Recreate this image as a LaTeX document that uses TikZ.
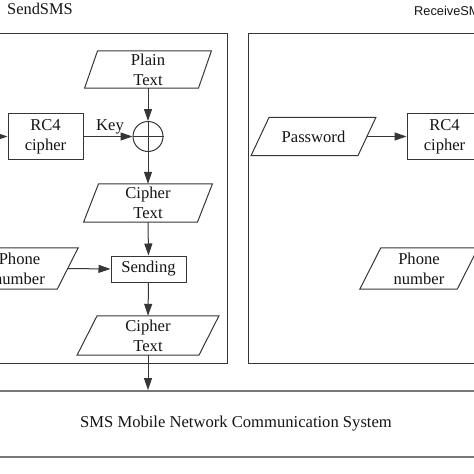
\documentclass[tikz,border=0pt]{standalone}
\usepackage{fontspec}
\setmainfont{Liberation Serif}
\newfontfamily\sansf{Liberation Sans}
\usetikzlibrary{arrows.meta}
\definecolor{lc}{HTML}{363636}
\definecolor{bandc}{HTML}{777777}
\definecolor{tc}{HTML}{141414}
\begin{document}
\begin{tikzpicture}[x=1pt,y=-1pt,
  lbl/.style={inner sep=0pt,align=center,font=\fontsize{16.6}{20}\selectfont,text=tc},
  boxnode/.style={lbl,draw=lc,line width=1pt},
  frame/.style={draw=lc,line width=1pt,inner sep=0pt},
  band/.style={draw=bandc,line width=1.8pt,inner sep=0pt,lbl},
  pline/.style={draw=lc,line width=1pt,line join=miter},
  arr/.style={draw=lc,line width=1pt,-{Triangle[length=12pt,width=8pt]}},
  ]
\useasboundingbox (0,0) rectangle (474,474);
\clip (0,0) rectangle (474,474);
% frames
\node[frame,minimum width=247pt,minimum height=330pt] (left) at (103.5,198) {};
\node[frame,minimum width=252pt,minimum height=330pt] (right) at (374,198) {};
\node[band,minimum width=494pt,minimum height=66pt] (sms) at (236,424) {SMS Mobile Network Communication System};
% titles
\node[anchor=base west,inner sep=0pt,font=\fontsize{16.4}{20}\selectfont,text=tc] (tsend) at (7,14.5) {SendSMS};
\node[anchor=base west,inner sep=0pt,font=\sansf\fontsize{12.8}{15}\selectfont,text=tc] (trecv) at (414,15.5) {ReceiveSMS};
% left side
\node[lbl,minimum width=113.5pt,minimum height=37pt] (pt) at (148,69.5) {Plain\\Text};
\node[draw=lc,line width=1pt,circle,minimum size=30pt,inner sep=0pt] (xor) at (148,136.5) {};
\draw[lc,line width=1pt] (xor.north) -- (xor.south) (xor.west) -- (xor.east);
\node[boxnode,minimum width=75pt,minimum height=46pt] (rc4l) at (45.5,136.5) {RC4\\cipher};
\node[lbl,minimum width=113.5pt,minimum height=38pt] (ct1) at (148,203) {Cipher\\Text};
\node[boxnode,minimum width=75pt,minimum height=26pt] (send) at (148.5,269) {Sending};
\node[lbl,minimum width=96pt,minimum height=41pt] (phl) at (19.5,268.5) {Phone\\number};
\node[lbl,minimum width=121.5pt,minimum height=39pt] (ct2) at (148,335.5) {Cipher\\Text};
% right side
\node[lbl,minimum width=106.5pt,minimum height=38pt] (pw) at (313.5,136.5) {Password};
\node[boxnode,minimum width=75pt,minimum height=46pt] (rc4r) at (444.5,136.5) {RC4\\cipher};
\node[lbl,minimum width=97pt,minimum height=41pt] (phr) at (419,268.5) {Phone\\number};
% parallelograms
\foreach \n/\s in {pt/6.5, ct1/7.5, ct2/10, pw/9, phl/10.5, phr/10.5}
  \draw[pline] ([xshift=\s pt]\n.north west) -- ([xshift=\s pt]\n.north east) -- ([xshift=-\s pt]\n.south east) -- ([xshift=-\s pt]\n.south west) -- cycle;
% connectors
\coordinate (inl) at (-12,136.5);
\draw[arr] (inl) -- (rc4l.west);
\draw[arr] (pt.south) -- (xor.north);
\draw[arr] (rc4l.east) -- (xor.west) node[lbl,midway,above=2pt,xshift=2pt] (key) {Key};
\draw[arr] (xor.south) -- (ct1.north);
\draw[arr] (ct1.south) -- (send.north);
\draw[arr] (phl.east) -- (send.west);
\draw[arr] (send.south) -- (ct2.north);
\draw[arr] (ct2.south) -- (ct2.south |- sms.north);
\draw[arr] (pw.east) -- (rc4r.west);
\end{tikzpicture}
\end{document}
